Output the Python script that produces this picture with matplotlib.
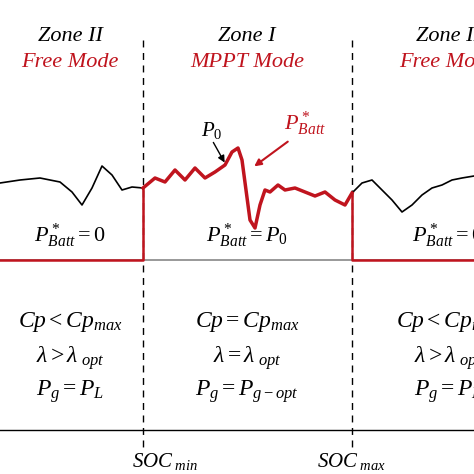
import matplotlib
matplotlib.use("Agg")
import matplotlib.pyplot as plt
plt.rcParams["mathtext.fontset"] = "custom"
plt.rcParams["mathtext.it"] = "Liberation Serif:italic"
plt.rcParams["mathtext.rm"] = "Liberation Serif"
plt.rcParams["mathtext.bf"] = "Liberation Serif:bold"

red = "#c0141e"
curve_x = [0, 20, 40, 60, 72, 82, 92, 102, 112, 122, 132, 143, 155, 165, 175, 185, 195, 205, 215, 225, 232, 238, 242, 246, 250, 255, 260, 265, 270, 278, 285, 295, 305, 315, 325, 335, 345, 352, 362, 372, 382, 392, 402, 412, 422, 432, 442, 452, 462, 474]
curve_y = [183, 180, 178, 182, 192, 205, 188, 166, 175, 190, 187, 188, 178, 182, 170, 180, 168, 178, 172, 165, 152, 148, 160, 190, 220, 228, 205, 190, 192, 185, 190, 188, 192, 196, 192, 200, 205, 193, 183, 180, 190, 200, 212, 205, 195, 188, 185, 180, 178, 176]
zone_titles = ["Zone II", "Zone I", "Zone II"]
zone_modes = ["Free Mode", "MPPT Mode", "Free Mode"]

fig = plt.figure(figsize=(4.74, 4.74), dpi=100)
ax = fig.add_axes([0, 0, 1, 1])
ax.set_xlim(0, 474); ax.set_ylim(474, 0); ax.axis("off")
fs = dict(family="Liberation Serif", style="italic")

for x in (143, 352):
    ax.plot([x, x], [40, 450], ls=(0, (5, 4)), color="black", lw=1)
ax.plot([0, 474], [430, 430], color="black", lw=1)
ax.plot([0, 474], [260, 260], color="#888888", lw=1.2)
ax.plot(curve_x, curve_y, color="black", lw=1.2)
zx = [x for x in curve_x if 143 <= x <= 352]
zy = [y for x, y in zip(curve_x, curve_y) if 143 <= x <= 352]
ax.plot(zx, zy, color=red, lw=2.5)
ax.plot([0, 143, 143], [260, 260, zy[0]], color=red, lw=1.8)
ax.plot([352, 352, 474], [zy[-1], 260, 260], color=red, lw=1.8)

centers = [70, 247, 448]
for c, t, m in zip(centers, zone_titles, zone_modes):
    ax.text(c, 36, t, ha="center", va="center", fontsize=16, **fs)
    ax.text(c, 62, m, ha="center", va="center", fontsize=16, color=red, **fs)

ax.text(212, 136, r"$P_0$", ha="center", fontsize=15, **fs)
ax.annotate("", xy=(226, 165), xytext=(212, 140), arrowprops=dict(arrowstyle="-|>", color="black", lw=1))
ax.text(305, 130, r"$P^*_{Batt}$", ha="center", fontsize=16, color=red, **fs)
ax.annotate("", xy=(252, 168), xytext=(290, 140), arrowprops=dict(arrowstyle="-|>", color=red, lw=1.5))

ax.text(70, 242, r"$P^*_{Batt}=0$", ha="center", fontsize=16, **fs)
ax.text(247, 242, r"$P^*_{Batt}=P_0$", ha="center", fontsize=16, **fs)
ax.text(448, 242, r"$P^*_{Batt}=0$", ha="center", fontsize=16, **fs)

rows = [[r"$Cp<Cp_{max}$", r"$\lambda>\lambda_{\ opt}$", r"$P_g=P_L$"],
        [r"$Cp=Cp_{max}$", r"$\lambda=\lambda_{\ opt}$", r"$P_g=P_{g-opt}$"],
        [r"$Cp<Cp_{max}$", r"$\lambda>\lambda_{\ opt}$", r"$P_g=P_L$"]]
for c, r in zip(centers, rows):
    for y, s in zip((322, 358, 392), r):
        ax.text(c, y, s, ha="center", va="center", fontsize=17, **fs)

ax.text(165, 462, r"$SOC_{\ min}$", ha="center", va="center", fontsize=15, **fs)
ax.text(352, 462, r"$SOC_{\ max}$", ha="center", va="center", fontsize=15, **fs)
fig.savefig("out.png", dpi=100)
